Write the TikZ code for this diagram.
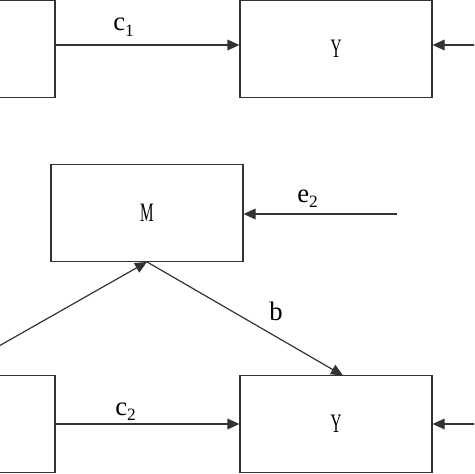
\documentclass[tikz,border=0pt]{standalone}
\usepackage{fontspec}
\usepackage{graphicx}
\setmainfont{Liberation Serif}
\usetikzlibrary{arrows.meta}
\definecolor{ink}{HTML}{333333}
\newcommand\lab[2]{#1\raisebox{-4pt}{\fontsize{13}{13}\selectfont #2}}
\newcommand\narrow[1]{\scalebox{0.57}[1]{#1}}
\tikzset{
  box/.style={draw=ink, line width=0.9pt, minimum width=144pt, minimum height=72.5pt, inner sep=0pt, font=\fontsize{20}{20}\selectfont},
  arr/.style={draw=ink, line width=0.9pt, -{Triangle[length=9pt,width=8pt]}},
  lbl/.style={inner sep=0pt, anchor=base west, font=\fontsize{20}{20}\selectfont}
}
\begin{document}
\begin{tikzpicture}[x=0.75pt,y=-0.75pt]
\useasboundingbox (0,0) rectangle (474,474);
\clip (0,0) rectangle (474,474);
\fill[white] (0,0) rectangle (474,474);
% top model
\node[box] (X1) at (-41,49) {};
\node[box] (Y1) at (336,49) {\narrow{Y}};
\coordinate (E1) at (490,45);
\draw[arr] (X1.east |- 0,45) -- (Y1.west |- 0,45);
\draw[arr] (E1) -- (Y1.east |- E1);
\node[lbl] (c1) at (113,31) {\lab{c}{1}};
% bottom model
\node[box] (M) at (147,213) {\narrow{M}};
\node[box] (X2) at (-41,424) {};
\node[box] (Y2) at (336,424) {\narrow{Y}};
\coordinate (E2) at (397,214);
\coordinate (E3) at (490,424);
\coordinate (A0) at (-53,375.5);
\coordinate (B1) at (343,375.5);
\draw[arr] (E2) -- (M.east |- E2);
\draw[arr] (A0) -- (M.south);
\draw[arr] (M.south) -- (B1);
\draw[arr] (X2.east) -- (Y2.west);
\draw[arr] (E3) -- (Y2.east);
\node[lbl] (e2) at (297,202) {\lab{e}{2}};
\node[lbl] (b) at (269,320) {b};
\node[lbl] (c2) at (115,415) {\lab{c}{2}};
\end{tikzpicture}
\end{document}
